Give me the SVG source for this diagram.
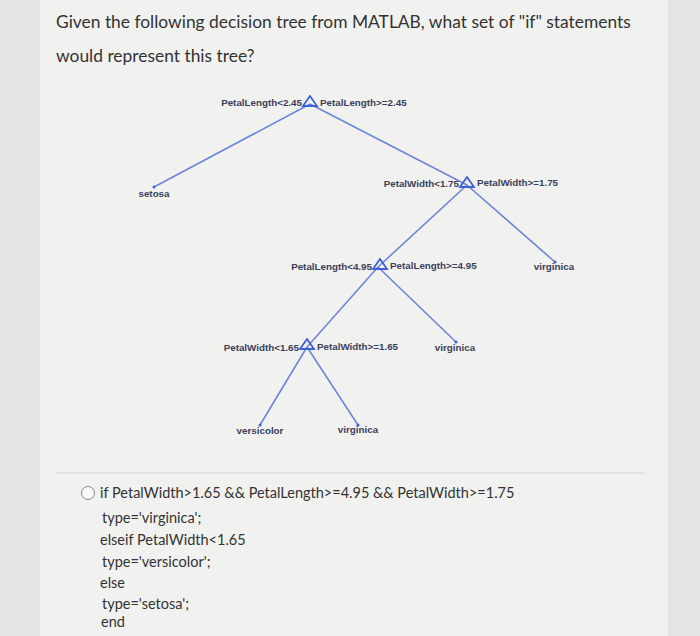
<svg xmlns="http://www.w3.org/2000/svg" width="700" height="636" viewBox="0 0 700 636">
<style>
.t{font-family:Lato,"Liberation Sans",sans-serif;fill:#333}
.n{font-family:"Liberation Sans",Arial,sans-serif;font-size:9.8px;fill:#3a3f5a;font-weight:bold}
.e{stroke:#6f86d8;stroke-width:1.6;fill:none}
.tri{fill:none;stroke:#3d5fd8;stroke-width:1.8}
.leaf{fill:#3d5fd8}
</style>
<rect width="700" height="636" fill="#e4e4e2"/>
<rect x="40" y="0" width="628" height="636" fill="#f1f1ef"/>
<text class="t" x="56" y="28" font-size="17.4">Given the following decision tree from MATLAB, what set of "if" statements</text>
<text class="t" x="56" y="62" font-size="17.4">would represent this tree?</text>
<g id="connectors">
<line class="e" x1="310" y1="104" x2="154" y2="187"/>
<line class="e" x1="310" y1="104" x2="467" y2="185"/>
<line class="e" x1="467" y1="185" x2="378" y2="267"/>
<line class="e" x1="467" y1="185" x2="555" y2="262"/>
<line class="e" x1="378" y1="267" x2="307" y2="347"/>
<line class="e" x1="378" y1="267" x2="456" y2="342"/>
<line class="e" x1="307" y1="347" x2="260" y2="425"/>
<line class="e" x1="307" y1="347" x2="358" y2="425"/>
</g>
<g id="n1"><path class="tri" d="M310,96 L303,106 L317,106 Z"/><text class="n" x="302" y="106" text-anchor="end">PetalLength&lt;2.45</text><text class="n" x="320" y="106">PetalLength&gt;=2.45</text></g>
<g id="n2"><path class="tri" d="M467,177 L460,187 L474,187 Z"/><text class="n" x="459" y="187" text-anchor="end">PetalWidth&lt;1.75</text><text class="n" x="477" y="186">PetalWidth&gt;=1.75</text></g>
<g id="n3"><path class="tri" d="M380,259 L373,269 L387,269 Z"/><text class="n" x="372" y="270" text-anchor="end">PetalLength&lt;4.95</text><text class="n" x="390" y="269">PetalLength&gt;=4.95</text></g>
<g id="n4"><path class="tri" d="M307,339 L300,349 L314,349 Z"/><text class="n" x="299" y="351" text-anchor="end">PetalWidth&lt;1.65</text><text class="n" x="317" y="350">PetalWidth&gt;=1.65</text></g>
<g id="setosa"><circle class="leaf" cx="154" cy="187" r="1.5"/><text class="n" x="154" y="197" text-anchor="middle">setosa</text></g>
<g id="virginica1"><circle class="leaf" cx="555" cy="262" r="1.5"/><text class="n" x="554" y="270" text-anchor="middle">virginica</text></g>
<g id="virginica2"><circle class="leaf" cx="456" cy="342" r="1.5"/><text class="n" x="455" y="351" text-anchor="middle">virginica</text></g>
<g id="versicolor"><circle class="leaf" cx="260" cy="425" r="1.5"/><text class="n" x="260" y="434" text-anchor="middle">versicolor</text></g>
<g id="virginica3"><circle class="leaf" cx="358" cy="425" r="1.5"/><text class="n" x="358" y="433" text-anchor="middle">virginica</text></g>
<line x1="55" y1="473" x2="645" y2="473" stroke="#d6d6d4" stroke-width="1"/>
<circle cx="88" cy="493" r="6.5" fill="#fafafa" stroke="#8a8a8a" stroke-width="1"/>
<g class="t" font-size="14.5">
<text x="100" y="498">if PetalWidth&gt;1.65 &amp;&amp; PetalLength&gt;=4.95 &amp;&amp; PetalWidth&gt;=1.75</text>
<text x="102" y="523">type='virginica';</text>
<text x="100" y="545">elseif PetalWidth&lt;1.65</text>
<text x="102" y="567">type='versicolor';</text>
<text x="100" y="588">else</text>
<text x="102" y="609">type='setosa';</text>
<text x="101" y="627">end</text>
</g>
</svg>
